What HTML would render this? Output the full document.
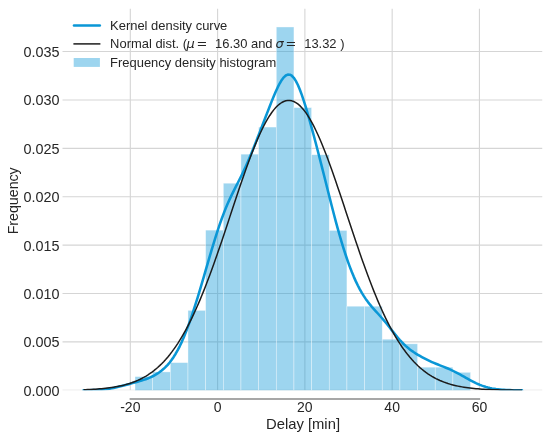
<!DOCTYPE html>
<html><head><meta charset="utf-8"><title>Delay distribution</title>
<style>
html,body{margin:0;padding:0;background:#fff;}
body{width:550px;height:436px;overflow:hidden;}
svg{display:block;}
text{font-family:"Liberation Sans",sans-serif;fill:#262626;}
.m{font-family:"DejaVu Sans",sans-serif;}
</style></head><body>
<svg width="550" height="436" viewBox="0 0 550 436">
<rect width="550" height="436" fill="#ffffff"/>

<defs><clipPath id="ax"><rect x="62.3" y="8.5" width="480.2" height="381.8"/></clipPath></defs>
<g stroke="#d5d5d5" stroke-width="1.1" fill="none" clip-path="url(#ax)">
<line x1="130.32" y1="8.5" x2="130.32" y2="390.3"/>
<line x1="217.60" y1="8.5" x2="217.60" y2="390.3"/>
<line x1="304.88" y1="8.5" x2="304.88" y2="390.3"/>
<line x1="392.16" y1="8.5" x2="392.16" y2="390.3"/>
<line x1="479.44" y1="8.5" x2="479.44" y2="390.3"/>
<line x1="62.3" y1="390.30" x2="542.5" y2="390.30"/>
<line x1="62.3" y1="341.91" x2="542.5" y2="341.91"/>
<line x1="62.3" y1="293.52" x2="542.5" y2="293.52"/>
<line x1="62.3" y1="245.13" x2="542.5" y2="245.13"/>
<line x1="62.3" y1="196.74" x2="542.5" y2="196.74"/>
<line x1="62.3" y1="148.35" x2="542.5" y2="148.35"/>
<line x1="62.3" y1="99.96" x2="542.5" y2="99.96"/>
<line x1="62.3" y1="51.57" x2="542.5" y2="51.57"/>
</g>
<g fill="#0a97d6" fill-opacity="0.4" stroke="#ffffff" stroke-opacity="0.6" stroke-width="0.6" clip-path="url(#ax)">
<rect x="135.00" y="376.60" width="17.66" height="15.70"/>
<rect x="152.66" y="371.91" width="17.66" height="20.39"/>
<rect x="170.32" y="362.62" width="17.66" height="29.68"/>
<rect x="187.98" y="310.36" width="17.66" height="81.94"/>
<rect x="205.64" y="230.13" width="17.66" height="162.17"/>
<rect x="223.30" y="183.19" width="17.66" height="209.11"/>
<rect x="240.96" y="154.16" width="17.66" height="238.14"/>
<rect x="258.62" y="127.06" width="17.66" height="265.24"/>
<rect x="276.28" y="26.99" width="17.66" height="365.31"/>
<rect x="293.94" y="107.61" width="17.66" height="284.69"/>
<rect x="311.60" y="154.74" width="17.66" height="237.56"/>
<rect x="329.26" y="230.42" width="17.66" height="161.88"/>
<rect x="346.92" y="306.20" width="17.66" height="86.10"/>
<rect x="364.58" y="306.20" width="17.66" height="86.10"/>
<rect x="382.24" y="339.20" width="17.66" height="53.10"/>
<rect x="399.90" y="343.85" width="17.66" height="48.45"/>
<rect x="417.56" y="367.17" width="17.66" height="25.13"/>
<rect x="435.22" y="367.17" width="17.66" height="25.13"/>
<rect x="452.88" y="372.30" width="17.66" height="20.00"/>
</g>
<g clip-path="url(#ax)" fill="none" stroke-linejoin="round">
<path d="M83.60,390.26 L85.60,390.24 L87.60,390.21 L89.61,390.18 L91.61,390.13 L93.61,390.08 L95.61,390.00 L97.61,389.90 L99.61,389.78 L101.62,389.63 L103.62,389.44 L105.62,389.23 L107.62,388.97 L109.62,388.67 L111.63,388.34 L113.63,387.96 L115.63,387.54 L117.63,387.09 L119.63,386.61 L121.63,386.10 L123.64,385.57 L125.64,385.03 L127.64,384.47 L129.64,383.92 L131.64,383.36 L133.65,382.81 L135.65,382.25 L137.65,381.68 L139.65,381.10 L141.65,380.50 L143.65,379.87 L145.66,379.19 L147.66,378.45 L149.66,377.64 L151.66,376.75 L153.66,375.76 L155.67,374.66 L157.67,373.43 L159.67,372.06 L161.67,370.53 L163.67,368.83 L165.67,366.93 L167.68,364.81 L169.68,362.46 L171.68,359.83 L173.68,356.93 L175.68,353.71 L177.69,350.17 L179.69,346.30 L181.69,342.08 L183.69,337.51 L185.69,332.61 L187.69,327.39 L189.70,321.86 L191.70,316.06 L193.70,310.00 L195.70,303.72 L197.70,297.26 L199.71,290.64 L201.71,283.90 L203.71,277.07 L205.71,270.19 L207.71,263.31 L209.72,256.46 L211.72,249.69 L213.72,243.05 L215.72,236.59 L217.72,230.35 L219.72,224.38 L221.73,218.71 L223.73,213.35 L225.73,208.32 L227.73,203.59 L229.73,199.14 L231.74,194.91 L233.74,190.86 L235.74,186.90 L237.74,182.98 L239.74,179.03 L241.74,174.98 L243.75,170.79 L245.75,166.45 L247.75,161.93 L249.75,157.25 L251.75,152.42 L253.76,147.47 L255.76,142.43 L257.76,137.31 L259.76,132.15 L261.76,126.96 L263.76,121.76 L265.77,116.55 L267.77,111.36 L269.77,106.21 L271.77,101.15 L273.77,96.23 L275.78,91.55 L277.78,87.19 L279.78,83.29 L281.78,79.96 L283.78,77.33 L285.78,75.51 L287.79,74.60 L289.79,74.67 L291.79,75.74 L293.79,77.81 L295.79,80.84 L297.80,84.76 L299.80,89.46 L301.80,94.85 L303.80,100.81 L305.80,107.22 L307.80,113.99 L309.81,121.04 L311.81,128.30 L313.81,135.73 L315.81,143.28 L317.81,150.96 L319.82,158.73 L321.82,166.59 L323.82,174.51 L325.82,182.48 L327.82,190.45 L329.82,198.39 L331.83,206.26 L333.83,214.00 L335.83,221.56 L337.83,228.91 L339.83,236.01 L341.84,242.82 L343.84,249.32 L345.84,255.50 L347.84,261.35 L349.84,266.85 L351.84,272.03 L353.85,276.86 L355.85,281.36 L357.85,285.53 L359.85,289.37 L361.85,292.91 L363.86,296.16 L365.86,299.13 L367.86,301.87 L369.86,304.42 L371.86,306.81 L373.86,309.09 L375.87,311.31 L377.87,313.51 L379.87,315.74 L381.87,318.02 L383.87,320.37 L385.88,322.79 L387.88,325.27 L389.88,327.80 L391.88,330.35 L393.88,332.88 L395.88,335.37 L397.89,337.77 L399.89,340.06 L401.89,342.23 L403.89,344.24 L405.89,346.12 L407.90,347.84 L409.90,349.44 L411.90,350.92 L413.90,352.29 L415.90,353.59 L417.91,354.81 L419.91,355.97 L421.91,357.09 L423.91,358.16 L425.91,359.19 L427.91,360.18 L429.92,361.13 L431.92,362.04 L433.92,362.90 L435.92,363.74 L437.92,364.54 L439.93,365.33 L441.93,366.11 L443.93,366.90 L445.93,367.71 L447.93,368.54 L449.93,369.41 L451.94,370.33 L453.94,371.29 L455.94,372.30 L457.94,373.36 L459.94,374.45 L461.95,375.57 L463.95,376.70 L465.95,377.84 L467.95,378.97 L469.95,380.07 L471.95,381.14 L473.96,382.17 L475.96,383.14 L477.96,384.04 L479.96,384.88 L481.96,385.65 L483.97,386.34 L485.97,386.97 L487.97,387.52 L489.97,388.00 L491.97,388.42 L493.97,388.77 L495.98,389.08 L497.98,389.33 L499.98,389.54 L501.98,389.71 L503.98,389.85 L505.99,389.95 L507.99,390.04 L509.99,390.11 L511.99,390.16 L513.99,390.20 L515.99,390.23 L518.00,390.25 L520.00,390.26 L522.00,390.28" stroke="#0a97d6" stroke-width="2.55" stroke-linecap="round"/>
<path d="M83.60,389.73 L85.60,389.65 L87.60,389.57 L89.61,389.48 L91.61,389.38 L93.61,389.26 L95.61,389.14 L97.61,389.00 L99.61,388.84 L101.62,388.67 L103.62,388.48 L105.62,388.27 L107.62,388.04 L109.62,387.78 L111.63,387.51 L113.63,387.20 L115.63,386.86 L117.63,386.49 L119.63,386.09 L121.63,385.65 L123.64,385.17 L125.64,384.64 L127.64,384.07 L129.64,383.45 L131.64,382.78 L133.65,382.05 L135.65,381.26 L137.65,380.41 L139.65,379.49 L141.65,378.50 L143.65,377.43 L145.66,376.28 L147.66,375.05 L149.66,373.73 L151.66,372.32 L153.66,370.81 L155.67,369.20 L157.67,367.48 L159.67,365.66 L161.67,363.71 L163.67,361.65 L165.67,359.47 L167.68,357.16 L169.68,354.71 L171.68,352.13 L173.68,349.42 L175.68,346.56 L177.69,343.56 L179.69,340.41 L181.69,337.11 L183.69,333.66 L185.69,330.06 L187.69,326.31 L189.70,322.40 L191.70,318.34 L193.70,314.13 L195.70,309.76 L197.70,305.25 L199.71,300.59 L201.71,295.79 L203.71,290.85 L205.71,285.77 L207.71,280.57 L209.72,275.24 L211.72,269.80 L213.72,264.25 L215.72,258.59 L217.72,252.85 L219.72,247.03 L221.73,241.14 L223.73,235.19 L225.73,229.20 L227.73,223.17 L229.73,217.13 L231.74,211.07 L233.74,205.03 L235.74,199.00 L237.74,193.02 L239.74,187.09 L241.74,181.23 L243.75,175.45 L245.75,169.78 L247.75,164.23 L249.75,158.81 L251.75,153.54 L253.76,148.44 L255.76,143.52 L257.76,138.80 L259.76,134.30 L261.76,130.02 L263.76,125.98 L265.77,122.20 L267.77,118.69 L269.77,115.46 L271.77,112.52 L273.77,109.88 L275.78,107.55 L277.78,105.54 L279.78,103.86 L281.78,102.50 L283.78,101.49 L285.78,100.81 L287.79,100.48 L289.79,100.49 L291.79,100.84 L293.79,101.53 L295.79,102.57 L297.80,103.94 L299.80,105.64 L301.80,107.67 L303.80,110.01 L305.80,112.67 L307.80,115.63 L309.81,118.87 L311.81,122.40 L313.81,126.19 L315.81,130.24 L317.81,134.53 L319.82,139.05 L321.82,143.78 L323.82,148.71 L325.82,153.82 L327.82,159.10 L329.82,164.52 L331.83,170.08 L333.83,175.76 L335.83,181.54 L337.83,187.41 L339.83,193.34 L341.84,199.33 L343.84,205.35 L345.84,211.40 L347.84,217.45 L349.84,223.50 L351.84,229.53 L353.85,235.52 L355.85,241.46 L357.85,247.35 L359.85,253.17 L361.85,258.90 L363.86,264.55 L365.86,270.09 L367.86,275.53 L369.86,280.85 L371.86,286.05 L373.86,291.12 L375.87,296.05 L377.87,300.85 L379.87,305.50 L381.87,310.00 L383.87,314.36 L385.88,318.56 L387.88,322.62 L389.88,326.51 L391.88,330.26 L393.88,333.85 L395.88,337.29 L397.89,340.58 L399.89,343.72 L401.89,346.72 L403.89,349.57 L405.89,352.28 L407.90,354.85 L409.90,357.28 L411.90,359.59 L413.90,361.77 L415.90,363.82 L417.91,365.76 L419.91,367.58 L421.91,369.29 L423.91,370.90 L425.91,372.40 L427.91,373.81 L429.92,375.12 L431.92,376.35 L433.92,377.49 L435.92,378.55 L437.92,379.54 L439.93,380.46 L441.93,381.31 L443.93,382.09 L445.93,382.82 L447.93,383.49 L449.93,384.10 L451.94,384.67 L453.94,385.19 L455.94,385.67 L457.94,386.11 L459.94,386.51 L461.95,386.88 L463.95,387.22 L465.95,387.52 L467.95,387.80 L469.95,388.05 L471.95,388.28 L473.96,388.49 L475.96,388.68 L477.96,388.85 L479.96,389.01 L481.96,389.14 L483.97,389.27 L485.97,389.38 L487.97,389.48 L489.97,389.58 L491.97,389.66 L493.97,389.73 L495.98,389.80 L497.98,389.85 L499.98,389.91 L501.98,389.95 L503.98,389.99 L505.99,390.03 L507.99,390.06 L509.99,390.09 L511.99,390.12 L513.99,390.14 L515.99,390.16 L518.00,390.18 L520.00,390.19 L522.00,390.21" stroke="#1c1c1c" stroke-width="1.5"/>
</g>
<line x1="129.62" y1="399.0" x2="480.14" y2="399.0" stroke="#8a8a8a" stroke-width="1.55"/>
<text x="130.32" y="412.1" font-size="14" text-anchor="middle">-20</text>
<text x="217.60" y="412.1" font-size="14" text-anchor="middle">0</text>
<text x="304.88" y="412.1" font-size="14" text-anchor="middle">20</text>
<text x="392.16" y="412.1" font-size="14" text-anchor="middle">40</text>
<text x="479.44" y="412.1" font-size="14" text-anchor="middle">60</text>
<text x="59.5" y="395.80" font-size="14.4" text-anchor="end">0.000</text>
<text x="59.5" y="347.41" font-size="14.4" text-anchor="end">0.005</text>
<text x="59.5" y="299.02" font-size="14.4" text-anchor="end">0.010</text>
<text x="59.5" y="250.63" font-size="14.4" text-anchor="end">0.015</text>
<text x="59.5" y="202.24" font-size="14.4" text-anchor="end">0.020</text>
<text x="59.5" y="153.85" font-size="14.4" text-anchor="end">0.025</text>
<text x="59.5" y="105.46" font-size="14.4" text-anchor="end">0.030</text>
<text x="59.5" y="57.07" font-size="14.4" text-anchor="end">0.035</text>
<text x="303" y="428.7" font-size="14.8" text-anchor="middle">Delay [min]</text>
<text transform="translate(17.9,200.8) rotate(-90)" font-size="14.2" text-anchor="middle">Frequency</text>
<line x1="74.0" y1="25.4" x2="99.8" y2="25.4" stroke="#0a97d6" stroke-width="2.55" stroke-linecap="round"/>
<line x1="73.4" y1="43.9" x2="100.4" y2="43.9" stroke="#1c1c1c" stroke-width="1.5"/>
<rect x="73.7" y="58.0" width="26.2" height="8.9" fill="#0a97d6" fill-opacity="0.4"/>
<text x="110.1" y="29.8" font-size="12.95">Kernel density curve</text>
<text y="48.4" font-size="12.95"><tspan x="110.1">Normal dist. (</tspan><tspan x="186.6" class="m" font-style="italic">μ</tspan><tspan x="196.6" class="m">=</tspan><tspan x="215.0">16.30 and</tspan><tspan x="275.5" class="m" font-style="italic">σ</tspan><tspan x="285.6" class="m">=</tspan><tspan x="304.2">13.32 )</tspan></text>
<text x="110.1" y="66.8" font-size="12.95">Frequency density histogram</text>
</svg></body></html>
